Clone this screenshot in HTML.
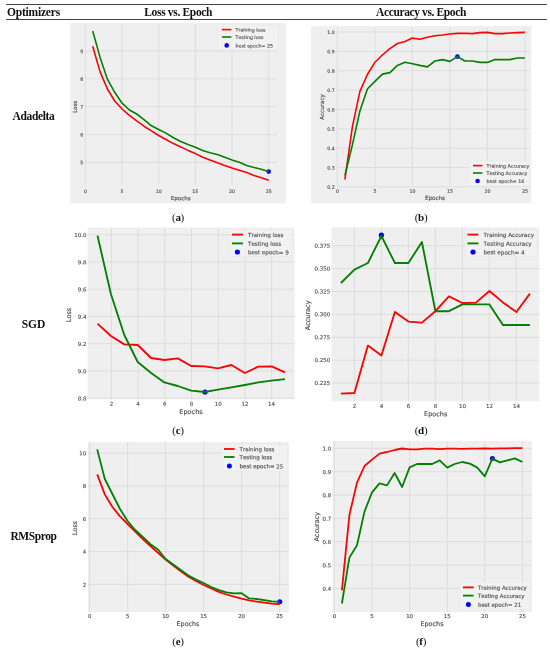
<!DOCTYPE html>
<html><head><meta charset="utf-8"><title>Optimizers</title>
<style>
html,body{margin:0;padding:0;background:#fff;}
body{width:550px;height:652px;position:relative;overflow:hidden;font-family:"Liberation Serif","DejaVu Serif",serif;color:#111;}
.rule{position:absolute;left:6px;width:541px;height:1px;background:#444;}
.h{position:absolute;font-weight:bold;font-size:11.5px;letter-spacing:-0.2px;line-height:14px;white-space:nowrap;top:5.4px;}
.c{transform:translateX(-50%);}
.row{position:absolute;font-weight:bold;font-size:11.5px;letter-spacing:-0.2px;line-height:14px;white-space:nowrap;transform:translateX(-50%);left:33.5px;}
.cap{position:absolute;font-size:11px;letter-spacing:-0.3px;line-height:14px;white-space:nowrap;transform:translateX(-50%);}
svg{position:absolute;left:0;top:0;}
svg text{text-rendering:geometricPrecision;font-kerning:none;font-family:"DejaVu Sans","Liberation Sans",sans-serif;stroke:#808080;stroke-width:0.2px;paint-order:stroke;}
</style></head><body>
<div class="rule" style="top:4px"></div>
<div class="rule" style="top:19px"></div>
<div class="h" style="left:7px">Optimizers</div>
<div class="h c" style="left:178.2px;letter-spacing:-0.33px">Loss vs. Epoch</div>
<div class="h c" style="left:421px;letter-spacing:-0.38px">Accuracy vs. Epoch</div>
<div class="row" style="top:108.5px;letter-spacing:-0.34px">Adadelta</div>
<div class="row" style="top:316.5px;letter-spacing:-0.07px">SGD</div>
<div class="row" style="top:529px;letter-spacing:-0.4px">RMSprop</div>
<div class="cap" style="left:178px;top:210.3px">(<b>a</b>)</div>
<div class="cap" style="left:421px;top:210.3px">(<b>b</b>)</div>
<div class="cap" style="left:178px;top:423.2px">(<b>c</b>)</div>
<div class="cap" style="left:421px;top:423.2px">(<b>d</b>)</div>
<div class="cap" style="left:178px;top:634.3px">(<b>e</b>)</div>
<div class="cap" style="left:421px;top:634.3px">(<b>f</b>)</div>
<svg width="550" height="652" viewBox="0 0 550 652">
<g><rect x="70" y="23" width="216.0" height="180.3" fill="#efefef"/>
<line x1="85.4" y1="24.5" x2="85.4" y2="184.5" stroke="#d9d9d9" stroke-width="0.8"/>
<line x1="122.1" y1="24.5" x2="122.1" y2="184.5" stroke="#d9d9d9" stroke-width="0.8"/>
<line x1="158.7" y1="24.5" x2="158.7" y2="184.5" stroke="#d9d9d9" stroke-width="0.8"/>
<line x1="195.4" y1="24.5" x2="195.4" y2="184.5" stroke="#d9d9d9" stroke-width="0.8"/>
<line x1="232.0" y1="24.5" x2="232.0" y2="184.5" stroke="#d9d9d9" stroke-width="0.8"/>
<line x1="268.6" y1="24.5" x2="268.6" y2="184.5" stroke="#d9d9d9" stroke-width="0.8"/>
<line x1="85.2" y1="51.0" x2="277" y2="51.0" stroke="#d9d9d9" stroke-width="0.8"/>
<line x1="85.2" y1="78.8" x2="277" y2="78.8" stroke="#d9d9d9" stroke-width="0.8"/>
<line x1="85.2" y1="106.7" x2="277" y2="106.7" stroke="#d9d9d9" stroke-width="0.8"/>
<line x1="85.2" y1="134.6" x2="277" y2="134.6" stroke="#d9d9d9" stroke-width="0.8"/>
<line x1="85.2" y1="162.4" x2="277" y2="162.4" stroke="#d9d9d9" stroke-width="0.8"/>
<clipPath id="cp0"><rect x="85.2" y="24.5" width="191.8" height="160.0"/></clipPath>
<rect x="218" y="25" width="60.0" height="25.0" rx="1" fill="#f3f3f3" fill-opacity="0.8" stroke="#e6e6e6" stroke-width="0.4"/>
<g clip-path="url(#cp0)">
<circle cx="268.7" cy="171.6" r="2.3" fill="#0303fc"/>
<polyline points="92.7,46.3 100.1,71.9 107.4,89.0 114.7,101.0 122.1,109.0 129.4,115.4 136.7,120.8 144.0,126.2 151.4,130.9 158.7,135.5 166.0,139.5 173.4,143.6 180.7,146.9 188.0,150.4 195.4,153.6 202.7,157.3 210.0,160.0 217.3,162.7 224.7,165.5 232.0,168.0 239.3,170.2 246.7,172.5 254.0,175.4 261.3,177.8 268.6,180.3" fill="none" stroke="#fc0303" stroke-width="1.6" stroke-linejoin="round" stroke-linecap="butt"/>
<polyline points="92.7,31.0 100.1,57.4 107.4,79.2 114.7,92.3 122.1,103.2 129.4,110.0 136.7,114.0 144.0,119.6 151.4,125.8 158.7,129.5 166.0,133.1 173.4,137.8 180.7,141.5 188.0,144.5 195.4,147.3 202.7,150.5 210.0,152.7 217.3,154.5 224.7,157.3 232.0,160.0 239.3,162.3 246.7,165.5 254.0,167.4 261.3,169.3 268.6,171.6" fill="none" stroke="#038003" stroke-width="1.6" stroke-linejoin="round" stroke-linecap="butt"/>
</g>
<line x1="222" y1="29.6" x2="231.4" y2="29.6" stroke="#fc0303" stroke-width="1.6"/>
<line x1="222" y1="37" x2="231.4" y2="37" stroke="#038003" stroke-width="1.6"/>
<circle cx="226.7" cy="45.4" r="2.3" fill="#0303fc"/>
<text transform="matrix(1 0.003 0 1 0 -0.7068)" x="235.60" y="31.59" font-size="4.69" text-anchor="start" fill="#505050">Training loss</text>
<text transform="matrix(1 0.003 0 1 0 -0.7068)" x="235.60" y="38.99" font-size="4.69" text-anchor="start" fill="#505050">Testing loss</text>
<text transform="matrix(1 0.003 0 1 0 -0.7068)" x="235.60" y="47.39" font-size="4.69" text-anchor="start" fill="#505050">best epoch= 25</text>
<text transform="matrix(1 0.003 0 1 0 -0.2562)" x="85.40" y="192.99" font-size="4.7" text-anchor="middle" fill="#505050">0</text>
<text transform="matrix(1 0.003 0 1 0 -0.3662)" x="122.05" y="192.99" font-size="4.7" text-anchor="middle" fill="#505050">5</text>
<text transform="matrix(1 0.003 0 1 0 -0.4761)" x="158.70" y="192.99" font-size="4.7" text-anchor="middle" fill="#505050">10</text>
<text transform="matrix(1 0.003 0 1 0 -0.5861)" x="195.35" y="192.99" font-size="4.7" text-anchor="middle" fill="#505050">15</text>
<text transform="matrix(1 0.003 0 1 0 -0.6960)" x="232.00" y="192.99" font-size="4.7" text-anchor="middle" fill="#505050">20</text>
<text transform="matrix(1 0.003 0 1 0 -0.8059)" x="268.65" y="192.99" font-size="4.7" text-anchor="middle" fill="#505050">25</text>
<text transform="matrix(1 0.003 0 1 0 -0.2496)" x="83.20" y="52.99" font-size="4.7" text-anchor="end" fill="#505050">9</text>
<text transform="matrix(1 0.003 0 1 0 -0.2496)" x="83.20" y="80.84" font-size="4.7" text-anchor="end" fill="#505050">8</text>
<text transform="matrix(1 0.003 0 1 0 -0.2496)" x="83.20" y="108.69" font-size="4.7" text-anchor="end" fill="#505050">7</text>
<text transform="matrix(1 0.003 0 1 0 -0.2496)" x="83.20" y="136.54" font-size="4.7" text-anchor="end" fill="#505050">6</text>
<text transform="matrix(1 0.003 0 1 0 -0.2496)" x="83.20" y="164.39" font-size="4.7" text-anchor="end" fill="#505050">5</text>
<text transform="matrix(1 0.003 0 1 0 -0.5421)" x="180.70" y="200.15" font-size="5.5" text-anchor="middle" fill="#484848">Epochs</text>
<text transform="translate(77.38,106.7) rotate(-90)" font-size="5.5" text-anchor="middle" fill="#484848">Loss</text></g>
<g><rect x="311" y="26" width="220.4" height="177.2" fill="#efefef"/>
<line x1="337.4" y1="27.5" x2="337.4" y2="185.8" stroke="#d9d9d9" stroke-width="0.8"/>
<line x1="374.9" y1="27.5" x2="374.9" y2="185.8" stroke="#d9d9d9" stroke-width="0.8"/>
<line x1="412.4" y1="27.5" x2="412.4" y2="185.8" stroke="#d9d9d9" stroke-width="0.8"/>
<line x1="449.9" y1="27.5" x2="449.9" y2="185.8" stroke="#d9d9d9" stroke-width="0.8"/>
<line x1="487.4" y1="27.5" x2="487.4" y2="185.8" stroke="#d9d9d9" stroke-width="0.8"/>
<line x1="524.9" y1="27.5" x2="524.9" y2="185.8" stroke="#d9d9d9" stroke-width="0.8"/>
<line x1="337.2" y1="32.0" x2="529.5" y2="32.0" stroke="#d9d9d9" stroke-width="0.8"/>
<line x1="337.2" y1="51.4" x2="529.5" y2="51.4" stroke="#d9d9d9" stroke-width="0.8"/>
<line x1="337.2" y1="70.7" x2="529.5" y2="70.7" stroke="#d9d9d9" stroke-width="0.8"/>
<line x1="337.2" y1="90.1" x2="529.5" y2="90.1" stroke="#d9d9d9" stroke-width="0.8"/>
<line x1="337.2" y1="109.4" x2="529.5" y2="109.4" stroke="#d9d9d9" stroke-width="0.8"/>
<line x1="337.2" y1="128.8" x2="529.5" y2="128.8" stroke="#d9d9d9" stroke-width="0.8"/>
<line x1="337.2" y1="148.2" x2="529.5" y2="148.2" stroke="#d9d9d9" stroke-width="0.8"/>
<line x1="337.2" y1="167.5" x2="529.5" y2="167.5" stroke="#d9d9d9" stroke-width="0.8"/>
<line x1="337.2" y1="186.9" x2="529.5" y2="186.9" stroke="#d9d9d9" stroke-width="0.8"/>
<clipPath id="cp1"><rect x="337.2" y="27.5" width="192.3" height="158.3"/></clipPath>
<rect x="469" y="161" width="61.0" height="25.0" rx="1" fill="#f3f3f3" fill-opacity="0.8" stroke="#e6e6e6" stroke-width="0.4"/>
<g clip-path="url(#cp1)">
<circle cx="457.4" cy="56.6" r="2.3" fill="#0303fc"/>
<polyline points="344.9,179.5 352.4,126.7 359.9,91.4 367.4,74.5 374.9,62.3 382.4,55.0 389.9,48.6 397.4,43.5 404.9,41.4 412.4,38.1 419.9,39.2 427.4,37.2 434.9,35.8 442.4,35.0 449.9,34.0 457.4,33.4 464.9,33.2 472.4,33.6 479.9,32.6 487.4,32.4 494.9,33.6 502.4,33.6 509.9,33.0 517.4,32.6 524.9,32.4" fill="none" stroke="#fc0303" stroke-width="1.6" stroke-linejoin="round" stroke-linecap="butt"/>
<polyline points="344.9,175.5 352.4,144.9 359.9,111.0 367.4,89.0 374.9,81.4 382.4,74.1 389.9,72.6 397.4,65.4 404.9,62.3 412.4,63.7 419.9,65.4 427.4,66.9 434.9,61.0 442.4,59.6 449.9,61.4 457.4,56.6 464.9,61.0 472.4,61.0 479.9,62.4 487.4,62.4 494.9,59.6 502.4,59.6 509.9,59.6 517.4,58.0 524.9,58.0" fill="none" stroke="#038003" stroke-width="1.6" stroke-linejoin="round" stroke-linecap="butt"/>
</g>
<line x1="473" y1="165.6" x2="482.4" y2="165.6" stroke="#fc0303" stroke-width="1.6"/>
<line x1="473" y1="173" x2="482.4" y2="173" stroke="#038003" stroke-width="1.6"/>
<circle cx="477.6" cy="181" r="2.3" fill="#0303fc"/>
<text transform="matrix(1 0.003 0 1 0 -1.4598)" x="486.60" y="167.61" font-size="4.75" text-anchor="start" fill="#505050">Training Accuracy</text>
<text transform="matrix(1 0.003 0 1 0 -1.4598)" x="486.60" y="175.01" font-size="4.75" text-anchor="start" fill="#505050">Testing Accuracy</text>
<text transform="matrix(1 0.003 0 1 0 -1.4598)" x="486.60" y="183.01" font-size="4.75" text-anchor="start" fill="#505050">best epoch= 16</text>
<text transform="matrix(1 0.003 0 1 0 -1.0122)" x="337.40" y="192.89" font-size="4.7" text-anchor="middle" fill="#505050">0</text>
<text transform="matrix(1 0.003 0 1 0 -1.1247)" x="374.90" y="192.89" font-size="4.7" text-anchor="middle" fill="#505050">5</text>
<text transform="matrix(1 0.003 0 1 0 -1.2372)" x="412.40" y="192.89" font-size="4.7" text-anchor="middle" fill="#505050">10</text>
<text transform="matrix(1 0.003 0 1 0 -1.3497)" x="449.90" y="192.89" font-size="4.7" text-anchor="middle" fill="#505050">15</text>
<text transform="matrix(1 0.003 0 1 0 -1.4622)" x="487.40" y="192.89" font-size="4.7" text-anchor="middle" fill="#505050">20</text>
<text transform="matrix(1 0.003 0 1 0 -1.5747)" x="524.90" y="192.89" font-size="4.7" text-anchor="middle" fill="#505050">25</text>
<text transform="matrix(1 0.003 0 1 0 -1.0044)" x="334.80" y="33.99" font-size="4.7" text-anchor="end" fill="#505050">1.0</text>
<text transform="matrix(1 0.003 0 1 0 -1.0044)" x="334.80" y="53.35" font-size="4.7" text-anchor="end" fill="#505050">0.9</text>
<text transform="matrix(1 0.003 0 1 0 -1.0044)" x="334.80" y="72.71" font-size="4.7" text-anchor="end" fill="#505050">0.8</text>
<text transform="matrix(1 0.003 0 1 0 -1.0044)" x="334.80" y="92.07" font-size="4.7" text-anchor="end" fill="#505050">0.7</text>
<text transform="matrix(1 0.003 0 1 0 -1.0044)" x="334.80" y="111.43" font-size="4.7" text-anchor="end" fill="#505050">0.6</text>
<text transform="matrix(1 0.003 0 1 0 -1.0044)" x="334.80" y="130.79" font-size="4.7" text-anchor="end" fill="#505050">0.5</text>
<text transform="matrix(1 0.003 0 1 0 -1.0044)" x="334.80" y="150.15" font-size="4.7" text-anchor="end" fill="#505050">0.4</text>
<text transform="matrix(1 0.003 0 1 0 -1.0044)" x="334.80" y="169.51" font-size="4.7" text-anchor="end" fill="#505050">0.3</text>
<text transform="matrix(1 0.003 0 1 0 -1.0044)" x="334.80" y="188.87" font-size="4.7" text-anchor="end" fill="#505050">0.2</text>
<text transform="matrix(1 0.003 0 1 0 -1.3050)" x="435.00" y="199.88" font-size="5.6" text-anchor="middle" fill="#484848">Epochs</text>
<text transform="translate(323.92,107) rotate(-90)" font-size="5.6" text-anchor="middle" fill="#484848">Accuracy</text></g>
<g><rect x="87.6" y="227.6" width="207.0" height="171.8" fill="#efefef"/>
<line x1="111.4" y1="227.6" x2="111.4" y2="399.4" stroke="#d9d9d9" stroke-width="0.8"/>
<line x1="138.1" y1="227.6" x2="138.1" y2="399.4" stroke="#d9d9d9" stroke-width="0.8"/>
<line x1="164.8" y1="227.6" x2="164.8" y2="399.4" stroke="#d9d9d9" stroke-width="0.8"/>
<line x1="191.5" y1="227.6" x2="191.5" y2="399.4" stroke="#d9d9d9" stroke-width="0.8"/>
<line x1="218.2" y1="227.6" x2="218.2" y2="399.4" stroke="#d9d9d9" stroke-width="0.8"/>
<line x1="244.9" y1="227.6" x2="244.9" y2="399.4" stroke="#d9d9d9" stroke-width="0.8"/>
<line x1="271.6" y1="227.6" x2="271.6" y2="399.4" stroke="#d9d9d9" stroke-width="0.8"/>
<line x1="87.6" y1="234.8" x2="294.6" y2="234.8" stroke="#d9d9d9" stroke-width="0.8"/>
<line x1="87.6" y1="262.0" x2="294.6" y2="262.0" stroke="#d9d9d9" stroke-width="0.8"/>
<line x1="87.6" y1="289.2" x2="294.6" y2="289.2" stroke="#d9d9d9" stroke-width="0.8"/>
<line x1="87.6" y1="316.5" x2="294.6" y2="316.5" stroke="#d9d9d9" stroke-width="0.8"/>
<line x1="87.6" y1="343.7" x2="294.6" y2="343.7" stroke="#d9d9d9" stroke-width="0.8"/>
<line x1="87.6" y1="370.9" x2="294.6" y2="370.9" stroke="#d9d9d9" stroke-width="0.8"/>
<line x1="87.6" y1="398.1" x2="294.6" y2="398.1" stroke="#d9d9d9" stroke-width="0.8"/>
<clipPath id="cp2"><rect x="87.6" y="227.6" width="207.0" height="171.8"/></clipPath>
<rect x="229.6" y="230" width="62.4" height="26.4" rx="1" fill="#f3f3f3" fill-opacity="0.8" stroke="#e6e6e6" stroke-width="0.4"/>
<g clip-path="url(#cp2)">
<circle cx="205" cy="392" r="2.6" fill="#0303fc"/>
<polyline points="97.5,323.6 110.9,336.0 124.3,344.4 137.7,345.0 151.1,358.0 164.4,360.0 177.8,358.4 191.2,366.0 204.6,366.4 218.0,368.4 231.4,365.0 244.8,373.0 258.2,366.6 271.6,366.4 285.0,372.4" fill="none" stroke="#fc0303" stroke-width="1.85" stroke-linejoin="round" stroke-linecap="butt"/>
<polyline points="97.5,235.6 110.9,294.0 124.3,335.0 137.7,362.0 151.1,373.0 164.4,382.4 177.8,386.0 191.2,390.6 204.6,392.0 218.0,389.6 231.4,387.4 244.8,385.0 258.2,382.4 271.6,380.6 285.0,379.2" fill="none" stroke="#038003" stroke-width="1.85" stroke-linejoin="round" stroke-linecap="butt"/>
</g>
<line x1="232" y1="234.6" x2="243" y2="234.6" stroke="#fc0303" stroke-width="1.85"/>
<line x1="232" y1="243.4" x2="243" y2="243.4" stroke="#038003" stroke-width="1.85"/>
<circle cx="237.4" cy="252" r="2.6" fill="#0303fc"/>
<text transform="matrix(1 0.003 0 1 0 -0.7440)" x="248.00" y="236.91" font-size="5.58" text-anchor="start" fill="#505050">Training loss</text>
<text transform="matrix(1 0.003 0 1 0 -0.7440)" x="248.00" y="245.71" font-size="5.58" text-anchor="start" fill="#505050">Testing loss</text>
<text transform="matrix(1 0.003 0 1 0 -0.7440)" x="248.00" y="254.31" font-size="5.58" text-anchor="start" fill="#505050">best epoch= 9</text>
<text transform="matrix(1 0.003 0 1 0 -0.3342)" x="111.40" y="405.78" font-size="5.5" text-anchor="middle" fill="#505050">2</text>
<text transform="matrix(1 0.003 0 1 0 -0.4143)" x="138.10" y="405.78" font-size="5.5" text-anchor="middle" fill="#505050">4</text>
<text transform="matrix(1 0.003 0 1 0 -0.4944)" x="164.80" y="405.78" font-size="5.5" text-anchor="middle" fill="#505050">6</text>
<text transform="matrix(1 0.003 0 1 0 -0.5745)" x="191.50" y="405.78" font-size="5.5" text-anchor="middle" fill="#505050">8</text>
<text transform="matrix(1 0.003 0 1 0 -0.6546)" x="218.20" y="405.78" font-size="5.5" text-anchor="middle" fill="#505050">10</text>
<text transform="matrix(1 0.003 0 1 0 -0.7347)" x="244.90" y="405.78" font-size="5.5" text-anchor="middle" fill="#505050">12</text>
<text transform="matrix(1 0.003 0 1 0 -0.8148)" x="271.60" y="405.78" font-size="5.5" text-anchor="middle" fill="#505050">14</text>
<text transform="matrix(1 0.003 0 1 0 -0.2592)" x="86.40" y="237.13" font-size="5.5" text-anchor="end" fill="#505050">10.0</text>
<text transform="matrix(1 0.003 0 1 0 -0.2592)" x="86.40" y="264.35" font-size="5.5" text-anchor="end" fill="#505050">9.8</text>
<text transform="matrix(1 0.003 0 1 0 -0.2592)" x="86.40" y="291.57" font-size="5.5" text-anchor="end" fill="#505050">9.6</text>
<text transform="matrix(1 0.003 0 1 0 -0.2592)" x="86.40" y="318.79" font-size="5.5" text-anchor="end" fill="#505050">9.4</text>
<text transform="matrix(1 0.003 0 1 0 -0.2592)" x="86.40" y="346.01" font-size="5.5" text-anchor="end" fill="#505050">9.2</text>
<text transform="matrix(1 0.003 0 1 0 -0.2592)" x="86.40" y="373.23" font-size="5.5" text-anchor="end" fill="#505050">9.0</text>
<text transform="matrix(1 0.003 0 1 0 -0.2592)" x="86.40" y="400.45" font-size="5.5" text-anchor="end" fill="#505050">8.8</text>
<text transform="matrix(1 0.003 0 1 0 -0.5730)" x="191.00" y="414.05" font-size="6.5" text-anchor="middle" fill="#484848">Epochs</text>
<text transform="translate(70.94,315) rotate(-90)" font-size="6.5" text-anchor="middle" fill="#484848">Loss</text></g>
<g><rect x="331.4" y="227.4" width="208.0" height="174.0" fill="#efefef"/>
<line x1="354.4" y1="227.4" x2="354.4" y2="401.4" stroke="#d9d9d9" stroke-width="0.8"/>
<line x1="381.4" y1="227.4" x2="381.4" y2="401.4" stroke="#d9d9d9" stroke-width="0.8"/>
<line x1="408.4" y1="227.4" x2="408.4" y2="401.4" stroke="#d9d9d9" stroke-width="0.8"/>
<line x1="435.4" y1="227.4" x2="435.4" y2="401.4" stroke="#d9d9d9" stroke-width="0.8"/>
<line x1="462.4" y1="227.4" x2="462.4" y2="401.4" stroke="#d9d9d9" stroke-width="0.8"/>
<line x1="489.4" y1="227.4" x2="489.4" y2="401.4" stroke="#d9d9d9" stroke-width="0.8"/>
<line x1="516.4" y1="227.4" x2="516.4" y2="401.4" stroke="#d9d9d9" stroke-width="0.8"/>
<line x1="331.4" y1="245.8" x2="539.4" y2="245.8" stroke="#d9d9d9" stroke-width="0.8"/>
<line x1="331.4" y1="268.7" x2="539.4" y2="268.7" stroke="#d9d9d9" stroke-width="0.8"/>
<line x1="331.4" y1="291.5" x2="539.4" y2="291.5" stroke="#d9d9d9" stroke-width="0.8"/>
<line x1="331.4" y1="314.4" x2="539.4" y2="314.4" stroke="#d9d9d9" stroke-width="0.8"/>
<line x1="331.4" y1="337.3" x2="539.4" y2="337.3" stroke="#d9d9d9" stroke-width="0.8"/>
<line x1="331.4" y1="360.2" x2="539.4" y2="360.2" stroke="#d9d9d9" stroke-width="0.8"/>
<line x1="331.4" y1="383.0" x2="539.4" y2="383.0" stroke="#d9d9d9" stroke-width="0.8"/>
<clipPath id="cp3"><rect x="331.4" y="227.4" width="208.0" height="174.0"/></clipPath>
<rect x="465" y="230" width="72.0" height="26.4" rx="1" fill="#f3f3f3" fill-opacity="0.8" stroke="#e6e6e6" stroke-width="0.4"/>
<g clip-path="url(#cp3)">
<circle cx="381.4" cy="235.2" r="2.6" fill="#0303fc"/>
<polyline points="340.9,393.6 354.4,393.0 367.9,345.6 381.4,355.4 394.9,312.0 408.4,321.6 421.9,322.6 435.4,311.2 448.9,296.4 462.4,303.0 475.9,302.6 489.4,291.0 502.9,302.4 516.4,312.0 529.9,293.6" fill="none" stroke="#fc0303" stroke-width="1.85" stroke-linejoin="round" stroke-linecap="butt"/>
<polyline points="340.9,283.0 354.4,269.6 367.9,263.0 381.4,236.0 394.9,263.0 408.4,263.0 421.9,242.0 435.4,311.2 448.9,311.2 462.4,304.4 475.9,304.4 489.4,304.4 502.9,325.0 516.4,325.0 529.9,325.0" fill="none" stroke="#038003" stroke-width="1.85" stroke-linejoin="round" stroke-linecap="butt"/>
</g>
<line x1="467.4" y1="234.6" x2="478.4" y2="234.6" stroke="#fc0303" stroke-width="1.85"/>
<line x1="467.4" y1="243.4" x2="478.4" y2="243.4" stroke="#038003" stroke-width="1.85"/>
<circle cx="473" cy="252" r="2.6" fill="#0303fc"/>
<text transform="matrix(1 0.003 0 1 0 -1.4502)" x="483.40" y="236.93" font-size="5.63" text-anchor="start" fill="#505050">Training Accuracy</text>
<text transform="matrix(1 0.003 0 1 0 -1.4502)" x="483.40" y="245.73" font-size="5.63" text-anchor="start" fill="#505050">Testing Accuracy</text>
<text transform="matrix(1 0.003 0 1 0 -1.4502)" x="483.40" y="254.33" font-size="5.63" text-anchor="start" fill="#505050">best epoch= 4</text>
<text transform="matrix(1 0.003 0 1 0 -1.0632)" x="354.40" y="407.98" font-size="5.5" text-anchor="middle" fill="#505050">2</text>
<text transform="matrix(1 0.003 0 1 0 -1.1442)" x="381.40" y="407.98" font-size="5.5" text-anchor="middle" fill="#505050">4</text>
<text transform="matrix(1 0.003 0 1 0 -1.2252)" x="408.40" y="407.98" font-size="5.5" text-anchor="middle" fill="#505050">6</text>
<text transform="matrix(1 0.003 0 1 0 -1.3062)" x="435.40" y="407.98" font-size="5.5" text-anchor="middle" fill="#505050">8</text>
<text transform="matrix(1 0.003 0 1 0 -1.3872)" x="462.40" y="407.98" font-size="5.5" text-anchor="middle" fill="#505050">10</text>
<text transform="matrix(1 0.003 0 1 0 -1.4682)" x="489.40" y="407.98" font-size="5.5" text-anchor="middle" fill="#505050">12</text>
<text transform="matrix(1 0.003 0 1 0 -1.5492)" x="516.40" y="407.98" font-size="5.5" text-anchor="middle" fill="#505050">14</text>
<text transform="matrix(1 0.003 0 1 0 -0.9906)" x="330.20" y="247.78" font-size="5.5" text-anchor="end" fill="#505050">0.375</text>
<text transform="matrix(1 0.003 0 1 0 -0.9906)" x="330.20" y="270.65" font-size="5.5" text-anchor="end" fill="#505050">0.350</text>
<text transform="matrix(1 0.003 0 1 0 -0.9906)" x="330.20" y="293.52" font-size="5.5" text-anchor="end" fill="#505050">0.325</text>
<text transform="matrix(1 0.003 0 1 0 -0.9906)" x="330.20" y="316.39" font-size="5.5" text-anchor="end" fill="#505050">0.300</text>
<text transform="matrix(1 0.003 0 1 0 -0.9906)" x="330.20" y="339.26" font-size="5.5" text-anchor="end" fill="#505050">0.275</text>
<text transform="matrix(1 0.003 0 1 0 -0.9906)" x="330.20" y="362.13" font-size="5.5" text-anchor="end" fill="#505050">0.250</text>
<text transform="matrix(1 0.003 0 1 0 -0.9906)" x="330.20" y="385.00" font-size="5.5" text-anchor="end" fill="#505050">0.225</text>
<text transform="matrix(1 0.003 0 1 0 -1.3071)" x="435.70" y="416.15" font-size="6.5" text-anchor="middle" fill="#484848">Epochs</text>
<text transform="translate(310.04,315.4) rotate(-90)" font-size="6.5" text-anchor="middle" fill="#484848">Accuracy</text></g>
<g><rect x="88" y="442" width="201.0" height="170.0" fill="#efefef"/>
<line x1="89.6" y1="442" x2="89.6" y2="612" stroke="#d9d9d9" stroke-width="0.8"/>
<line x1="127.6" y1="442" x2="127.6" y2="612" stroke="#d9d9d9" stroke-width="0.8"/>
<line x1="165.6" y1="442" x2="165.6" y2="612" stroke="#d9d9d9" stroke-width="0.8"/>
<line x1="203.6" y1="442" x2="203.6" y2="612" stroke="#d9d9d9" stroke-width="0.8"/>
<line x1="241.6" y1="442" x2="241.6" y2="612" stroke="#d9d9d9" stroke-width="0.8"/>
<line x1="279.6" y1="442" x2="279.6" y2="612" stroke="#d9d9d9" stroke-width="0.8"/>
<line x1="88" y1="453.0" x2="289" y2="453.0" stroke="#d9d9d9" stroke-width="0.8"/>
<line x1="88" y1="485.9" x2="289" y2="485.9" stroke="#d9d9d9" stroke-width="0.8"/>
<line x1="88" y1="518.7" x2="289" y2="518.7" stroke="#d9d9d9" stroke-width="0.8"/>
<line x1="88" y1="551.6" x2="289" y2="551.6" stroke="#d9d9d9" stroke-width="0.8"/>
<line x1="88" y1="584.4" x2="289" y2="584.4" stroke="#d9d9d9" stroke-width="0.8"/>
<clipPath id="cp4"><rect x="88" y="442" width="201.0" height="170.0"/></clipPath>
<rect x="222" y="444.4" width="65.0" height="26.6" rx="1" fill="#f3f3f3" fill-opacity="0.8" stroke="#e6e6e6" stroke-width="0.4"/>
<g clip-path="url(#cp4)">
<circle cx="279.8" cy="601.7" r="2.5" fill="#0303fc"/>
<polyline points="97.2,474.4 104.8,494.4 112.4,507.0 120.0,516.4 127.6,524.0 135.2,531.6 142.8,539.0 150.4,546.0 158.0,552.7 165.6,559.6 173.2,565.5 180.8,571.3 188.4,576.7 196.0,581.0 203.6,585.0 211.2,588.5 218.8,591.8 226.4,594.5 234.0,596.7 241.6,598.7 249.2,600.3 256.8,601.7 264.4,602.7 272.0,603.7 279.6,604.3" fill="none" stroke="#fc0303" stroke-width="1.8" stroke-linejoin="round" stroke-linecap="butt"/>
<polyline points="97.2,449.4 104.8,479.0 112.4,494.0 120.0,509.0 127.6,521.0 135.2,530.0 142.8,537.0 150.4,544.2 158.0,549.5 165.6,559.0 173.2,564.5 180.8,570.0 188.4,575.5 196.0,579.6 203.6,583.0 211.2,587.0 218.8,590.2 226.4,592.4 234.0,593.3 241.6,593.2 249.2,598.4 256.8,599.0 264.4,600.1 272.0,601.3 279.6,601.9" fill="none" stroke="#038003" stroke-width="1.8" stroke-linejoin="round" stroke-linecap="butt"/>
</g>
<line x1="224" y1="449" x2="234.6" y2="449" stroke="#fc0303" stroke-width="1.8"/>
<line x1="224" y1="457" x2="234.6" y2="457" stroke="#038003" stroke-width="1.8"/>
<circle cx="229.4" cy="466" r="2.5" fill="#0303fc"/>
<text transform="matrix(1 0.003 0 1 0 -0.7188)" x="239.60" y="451.28" font-size="5.49" text-anchor="start" fill="#505050">Training loss</text>
<text transform="matrix(1 0.003 0 1 0 -0.7188)" x="239.60" y="459.28" font-size="5.49" text-anchor="start" fill="#505050">Testing loss</text>
<text transform="matrix(1 0.003 0 1 0 -0.7188)" x="239.60" y="468.28" font-size="5.49" text-anchor="start" fill="#505050">best epoch= 25</text>
<text transform="matrix(1 0.003 0 1 0 -0.2688)" x="89.60" y="618.14" font-size="5.4" text-anchor="middle" fill="#505050">0</text>
<text transform="matrix(1 0.003 0 1 0 -0.3828)" x="127.60" y="618.14" font-size="5.4" text-anchor="middle" fill="#505050">5</text>
<text transform="matrix(1 0.003 0 1 0 -0.4968)" x="165.60" y="618.14" font-size="5.4" text-anchor="middle" fill="#505050">10</text>
<text transform="matrix(1 0.003 0 1 0 -0.6108)" x="203.60" y="618.14" font-size="5.4" text-anchor="middle" fill="#505050">15</text>
<text transform="matrix(1 0.003 0 1 0 -0.7248)" x="241.60" y="618.14" font-size="5.4" text-anchor="middle" fill="#505050">20</text>
<text transform="matrix(1 0.003 0 1 0 -0.8388)" x="279.60" y="618.14" font-size="5.4" text-anchor="middle" fill="#505050">25</text>
<text transform="matrix(1 0.003 0 1 0 -0.2586)" x="86.20" y="455.24" font-size="5.4" text-anchor="end" fill="#505050">10</text>
<text transform="matrix(1 0.003 0 1 0 -0.2586)" x="86.20" y="488.10" font-size="5.4" text-anchor="end" fill="#505050">8</text>
<text transform="matrix(1 0.003 0 1 0 -0.2586)" x="86.20" y="520.96" font-size="5.4" text-anchor="end" fill="#505050">6</text>
<text transform="matrix(1 0.003 0 1 0 -0.2586)" x="86.20" y="553.82" font-size="5.4" text-anchor="end" fill="#505050">4</text>
<text transform="matrix(1 0.003 0 1 0 -0.2586)" x="86.20" y="586.68" font-size="5.4" text-anchor="end" fill="#505050">2</text>
<text transform="matrix(1 0.003 0 1 0 -0.5640)" x="188.00" y="626.02" font-size="6.4" text-anchor="middle" fill="#484848">Epochs</text>
<text transform="translate(76.70,528) rotate(-90)" font-size="6.4" text-anchor="middle" fill="#484848">Loss</text></g>
<g><rect x="332.4" y="441" width="199.6" height="171.0" fill="#efefef"/>
<line x1="334.4" y1="441" x2="334.4" y2="612" stroke="#d9d9d9" stroke-width="0.8"/>
<line x1="372.0" y1="441" x2="372.0" y2="612" stroke="#d9d9d9" stroke-width="0.8"/>
<line x1="409.6" y1="441" x2="409.6" y2="612" stroke="#d9d9d9" stroke-width="0.8"/>
<line x1="447.2" y1="441" x2="447.2" y2="612" stroke="#d9d9d9" stroke-width="0.8"/>
<line x1="484.8" y1="441" x2="484.8" y2="612" stroke="#d9d9d9" stroke-width="0.8"/>
<line x1="522.4" y1="441" x2="522.4" y2="612" stroke="#d9d9d9" stroke-width="0.8"/>
<line x1="332.4" y1="448.4" x2="532" y2="448.4" stroke="#d9d9d9" stroke-width="0.8"/>
<line x1="332.4" y1="471.7" x2="532" y2="471.7" stroke="#d9d9d9" stroke-width="0.8"/>
<line x1="332.4" y1="495.1" x2="532" y2="495.1" stroke="#d9d9d9" stroke-width="0.8"/>
<line x1="332.4" y1="518.4" x2="532" y2="518.4" stroke="#d9d9d9" stroke-width="0.8"/>
<line x1="332.4" y1="541.8" x2="532" y2="541.8" stroke="#d9d9d9" stroke-width="0.8"/>
<line x1="332.4" y1="565.1" x2="532" y2="565.1" stroke="#d9d9d9" stroke-width="0.8"/>
<line x1="332.4" y1="588.4" x2="532" y2="588.4" stroke="#d9d9d9" stroke-width="0.8"/>
<clipPath id="cp5"><rect x="332.4" y="441" width="199.6" height="171.0"/></clipPath>
<rect x="460" y="582" width="70.0" height="27.0" rx="1" fill="#f3f3f3" fill-opacity="0.8" stroke="#e6e6e6" stroke-width="0.4"/>
<g clip-path="url(#cp5)">
<circle cx="492.4" cy="458.6" r="2.5" fill="#0303fc"/>
<polyline points="341.9,590.4 349.4,515.0 357.0,482.6 364.5,466.0 372.0,459.6 379.5,453.6 387.0,452.0 394.6,450.0 402.1,448.5 409.6,449.3 417.1,449.3 424.6,448.7 432.2,448.6 439.7,449.2 447.2,448.7 454.7,448.6 462.2,448.8 469.8,448.6 477.3,448.7 484.8,448.5 492.3,448.6 499.8,448.4 507.4,448.3 514.9,448.2 522.4,448.1" fill="none" stroke="#fc0303" stroke-width="1.8" stroke-linejoin="round" stroke-linecap="butt"/>
<polyline points="341.9,603.5 349.4,557.6 357.0,545.3 364.5,511.6 372.0,492.4 379.5,483.4 387.0,485.4 394.6,473.0 402.1,487.0 409.6,467.4 417.1,464.0 424.6,464.0 432.2,464.0 439.7,460.4 447.2,467.6 454.7,464.0 462.2,462.0 469.8,463.6 477.3,467.6 484.8,476.4 492.3,458.6 499.8,462.4 507.4,460.4 514.9,458.4 522.4,462.0" fill="none" stroke="#038003" stroke-width="1.8" stroke-linejoin="round" stroke-linecap="butt"/>
</g>
<line x1="463" y1="587.4" x2="473.6" y2="587.4" stroke="#fc0303" stroke-width="1.8"/>
<line x1="463" y1="595.6" x2="473.6" y2="595.6" stroke="#038003" stroke-width="1.8"/>
<circle cx="468.4" cy="604.4" r="2.5" fill="#0303fc"/>
<text transform="matrix(1 0.003 0 1 0 -1.4340)" x="478.00" y="589.65" font-size="5.43" text-anchor="start" fill="#505050">Training Accuracy</text>
<text transform="matrix(1 0.003 0 1 0 -1.4340)" x="478.00" y="597.85" font-size="5.43" text-anchor="start" fill="#505050">Testing Accuracy</text>
<text transform="matrix(1 0.003 0 1 0 -1.4340)" x="478.00" y="606.65" font-size="5.43" text-anchor="start" fill="#505050">best epoch= 21</text>
<text transform="matrix(1 0.003 0 1 0 -1.0032)" x="334.40" y="618.14" font-size="5.4" text-anchor="middle" fill="#505050">0</text>
<text transform="matrix(1 0.003 0 1 0 -1.1160)" x="372.00" y="618.14" font-size="5.4" text-anchor="middle" fill="#505050">5</text>
<text transform="matrix(1 0.003 0 1 0 -1.2288)" x="409.60" y="618.14" font-size="5.4" text-anchor="middle" fill="#505050">10</text>
<text transform="matrix(1 0.003 0 1 0 -1.3416)" x="447.20" y="618.14" font-size="5.4" text-anchor="middle" fill="#505050">15</text>
<text transform="matrix(1 0.003 0 1 0 -1.4544)" x="484.80" y="618.14" font-size="5.4" text-anchor="middle" fill="#505050">20</text>
<text transform="matrix(1 0.003 0 1 0 -1.5672)" x="522.40" y="618.14" font-size="5.4" text-anchor="middle" fill="#505050">25</text>
<text transform="matrix(1 0.003 0 1 0 -0.9936)" x="331.20" y="450.64" font-size="5.4" text-anchor="end" fill="#505050">1.0</text>
<text transform="matrix(1 0.003 0 1 0 -0.9936)" x="331.20" y="473.98" font-size="5.4" text-anchor="end" fill="#505050">0.9</text>
<text transform="matrix(1 0.003 0 1 0 -0.9936)" x="331.20" y="497.32" font-size="5.4" text-anchor="end" fill="#505050">0.8</text>
<text transform="matrix(1 0.003 0 1 0 -0.9936)" x="331.20" y="520.66" font-size="5.4" text-anchor="end" fill="#505050">0.7</text>
<text transform="matrix(1 0.003 0 1 0 -0.9936)" x="331.20" y="544.00" font-size="5.4" text-anchor="end" fill="#505050">0.6</text>
<text transform="matrix(1 0.003 0 1 0 -0.9936)" x="331.20" y="567.34" font-size="5.4" text-anchor="end" fill="#505050">0.5</text>
<text transform="matrix(1 0.003 0 1 0 -0.9936)" x="331.20" y="590.68" font-size="5.4" text-anchor="end" fill="#505050">0.4</text>
<text transform="matrix(1 0.003 0 1 0 -1.2960)" x="432.00" y="626.03" font-size="6.45" text-anchor="middle" fill="#484848">Epochs</text>
<text transform="translate(318.52,526.8) rotate(-90)" font-size="6.45" text-anchor="middle" fill="#484848">Accuracy</text></g>
</svg>
</body></html>
